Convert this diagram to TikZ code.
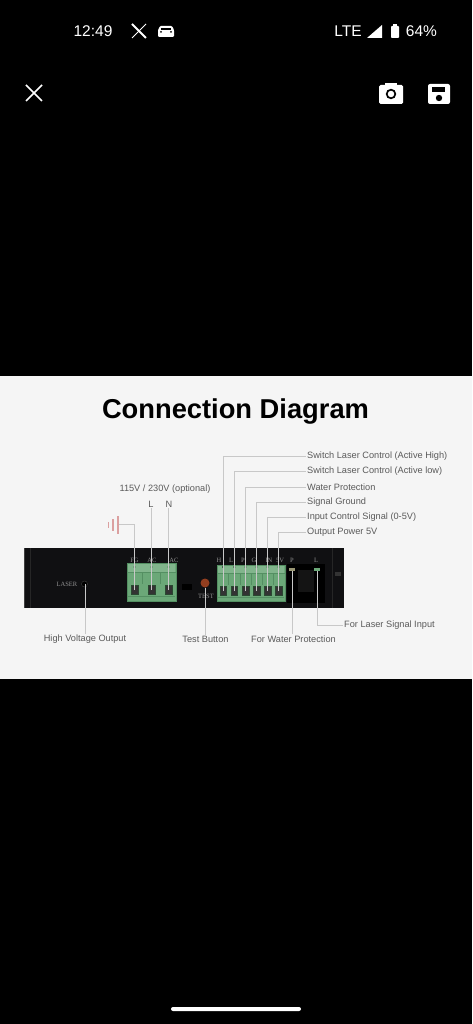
\documentclass[tikz,border=0pt]{standalone}
\usepackage{fontspec}
\usepackage{xcolor}
\setmainfont{Liberation Sans}
\newfontfamily\panelfont{Liberation Serif}
\definecolor{panel}{HTML}{F5F5F5}
\definecolor{leadgray}{HTML}{C8C8C8}
\definecolor{labelgray}{HTML}{5A5A5A}
\definecolor{tgreen}{HTML}{6BA878}
\definecolor{tdark}{HTML}{548F62}
\definecolor{gndred}{HTML}{DBA0A0}
\definecolor{casing}{HTML}{101012}
\tikzset{
  leader/.style={draw=leadgray,line width=1pt},
  lbl/.style={font=\fontsize{9.2}{10}\selectfont,text=labelgray,inner sep=1pt},
  silk/.style={font=\panelfont\fontsize{6.5}{7}\selectfont,text=gray!85!white,inner sep=0pt},
  termblock/.style={draw=tdark,fill=tgreen,line width=0.4pt,inner sep=0pt},
  screw/.style={draw=tdark!50!black,fill=black!80,minimum width=6.5pt,minimum height=9pt,inner sep=0pt},
  stat/.style={font=\fontsize{15.5}{17}\selectfont,text=white,inner sep=0pt}
}
\begin{document}
\begin{tikzpicture}[x=1pt,y=-1pt]
  \fill[black] (0,0) rectangle (472,1024);
  \useasboundingbox (0,0) rectangle (472,1024);
  % status bar and viewer icons
  \node[stat] (clock) at (93,31) {12:49};
  \draw[white,line width=2pt] (132,24)--(146,38);
  \draw[white,line width=0.8pt] (146,24)--(132,38);
  \fill[white,rounded corners=1pt] (158,30)--(160,26)--(172,26)--(174,30)--(174,37)--(158,37)--cycle;
  \fill[black] (161,28) rectangle (171,30);
  \fill[black] (161,32) circle (1pt) (171,32) circle (1pt);
  \node[stat] (lte) at (348,31) {LTE};
  \fill[white] (367,38)--(382,25)--(382,38)--cycle;
  \fill[white,rounded corners=0.8pt] (391,26) rectangle (399,38);
  \fill[white] (393,24) rectangle (397,26);
  \node[stat] (batt) at (421.5,31) {64\%};
  \draw[white,line width=1.7pt] (26,85)--(42,101) (42,85)--(26,101);
  \fill[white,rounded corners=1.5pt] (379,85) rectangle (403,104);
  \fill[white] (385,83) rectangle (397,86);
  \draw[black,line width=1.7pt] (391,94) circle (4.3pt);
  \fill[white,rounded corners=2pt] (428,84) rectangle (450,104);
  \fill[black] (432,87) rectangle (445,92);
  \fill[black] (439,98) circle (3.2pt);
  \fill[white,rounded corners=2pt] (171,1007) rectangle (301,1011);
  % image panel
  \fill[panel] (0,376) rectangle (472,679);
  \node[font=\bfseries\fontsize{27.3}{30}\selectfont,text=black,inner sep=0pt] (title) at (235.5,411) {Connection Diagram};
  % device
  \fill[casing] (24,548) rectangle (344,608);
  \fill[black!75!white] (24,548) rectangle (25,608);
  \draw[black!85,line width=0.5pt] (30,548)--(30,608) (332,548)--(332,608);
  \fill[black] (287,564) rectangle (325,603);
  \fill[black!80] (335,572) rectangle (341,576);
  \fill[black] (182,584) rectangle (192,590);
  \node[silk] (laser) at (67,584) {LASER};
  \fill[black,draw=black!75] (84.5,584) circle (3pt);
  \coordinate (hvport) at (85,584);
  % terminal blocks
  \node[termblock,minimum width=49pt,minimum height=38pt] (acblock) at (151.5,582) {};
  \node[termblock,minimum width=68pt,minimum height=36pt] (ctlblock) at (251,583) {};
  \fill[tgreen!85!white] (128,564) rectangle (175,572) (218,566) rectangle (284,573);
  \draw[tdark,line width=0.5pt] (127,572)--(176,572) (217,573)--(285,573) (128,596)--(175,596) (218,597)--(284,597);
  \foreach \x in {142,160} \draw[tdark,line width=0.4pt] (\x,573)--(\x,584);
  \foreach \x in {228.5,240,251,262,273} \draw[tdark,line width=0.4pt] (\x,574)--(\x,585);
  \foreach \n/\x in {fg/134.5,acl/151.5,acn/168.5}
    \node[screw] (scr\n) at (\x,590) {};
  \foreach \n/\x in {h/223,l/234.3,p/245.5,g/256.5,in/267.5,fv/278.5}
    \node[screw] (scr\n) at (\x,591) {};
  \foreach \x in {134.5,151.5,168.5} \fill[tdark!60!black] (\x,567) circle (1.2pt);
  \foreach \x in {223,234.3,245.5,256.5,267.5,278.5} \fill[tdark!50!black] (\x,567) circle (1.2pt);
  % silk labels
  \foreach \n/\x/\t in {sfg/134.5/FG,sac/152/AC,san/174/AC,sh/219/H,sl/231/L,sp/243/P,sg/254/G,sin/269/IN,sfv/280/5V,swp/292/P,slp/316/L}
    \node[silk] (\n) at (\x,560) {\t};
  \node[silk] (testsilk) at (206,596) {TEST};
  % front panel parts
  \node[circle,fill=brown!70!red!70!black,minimum size=9pt,inner sep=0pt] (testbtn) at (205,583) {};
  \fill[black!92] (298,570) rectangle (314,592);
  \node[rectangle,fill=yellow!35!black!70!white,minimum width=6pt,minimum height=3pt,inner sep=0pt] (wled) at (292,569) {};
  \node[rectangle,fill=tgreen,minimum width=6pt,minimum height=3pt,inner sep=0pt] (sled) at (317,569) {};
  % right hand labels
  \foreach \n/\y/\t in {h/456/{Switch Laser Control (Active High)},l/471/{Switch Laser Control (Active low)},p/487/{Water Protection},g/502/{Signal Ground},in/517/{Input Control Signal (0-5V)},fv/532/{Output Power 5V}}
  {
    \node[lbl,anchor=west] (lbl\n) at (306,\y) {\t};
    \draw[leader] (scr\n.center) |- (lbl\n.west);
  }
  % mains side
  \node[lbl] (mains) at (165,489) {115V / 230V (optional)};
  \node[lbl] (lblL) at (151,504) {L};
  \node[lbl] (lblN) at (169,504) {N};
  \draw[leader] (scracl.center) -- (lblL.south -| scracl);
  \draw[leader] (scracn.center) -- (lblN.south -| scracn);
  \coordinate (gnd) at (118,524.5);
  \draw[leader] (scrfg.center) |- (gnd);
  \draw[gndred,line width=1.2pt] (118,516)--(118,534) (113,519)--(113,531) (108.5,522)--(108.5,528);
  % lower labels
  \node[lbl] (lblhv) at (85,639) {High Voltage Output};
  \node[lbl] (lbltest) at (205.5,639) {Test Button};
  \node[lbl] (lblwater) at (293.5,639) {For Water Protection};
  \node[lbl,anchor=west] (lblsig) at (343,625) {For Laser Signal Input};
  \draw[leader] (hvport) -- (lblhv.north -| hvport);
  \draw[leader] (testbtn) -- (lbltest.north -| testbtn);
  \draw[leader] (wled) -- (lblwater.north -| wled);
  \draw[leader] (sled) |- (lblsig.west);
\end{tikzpicture}
\end{document}
